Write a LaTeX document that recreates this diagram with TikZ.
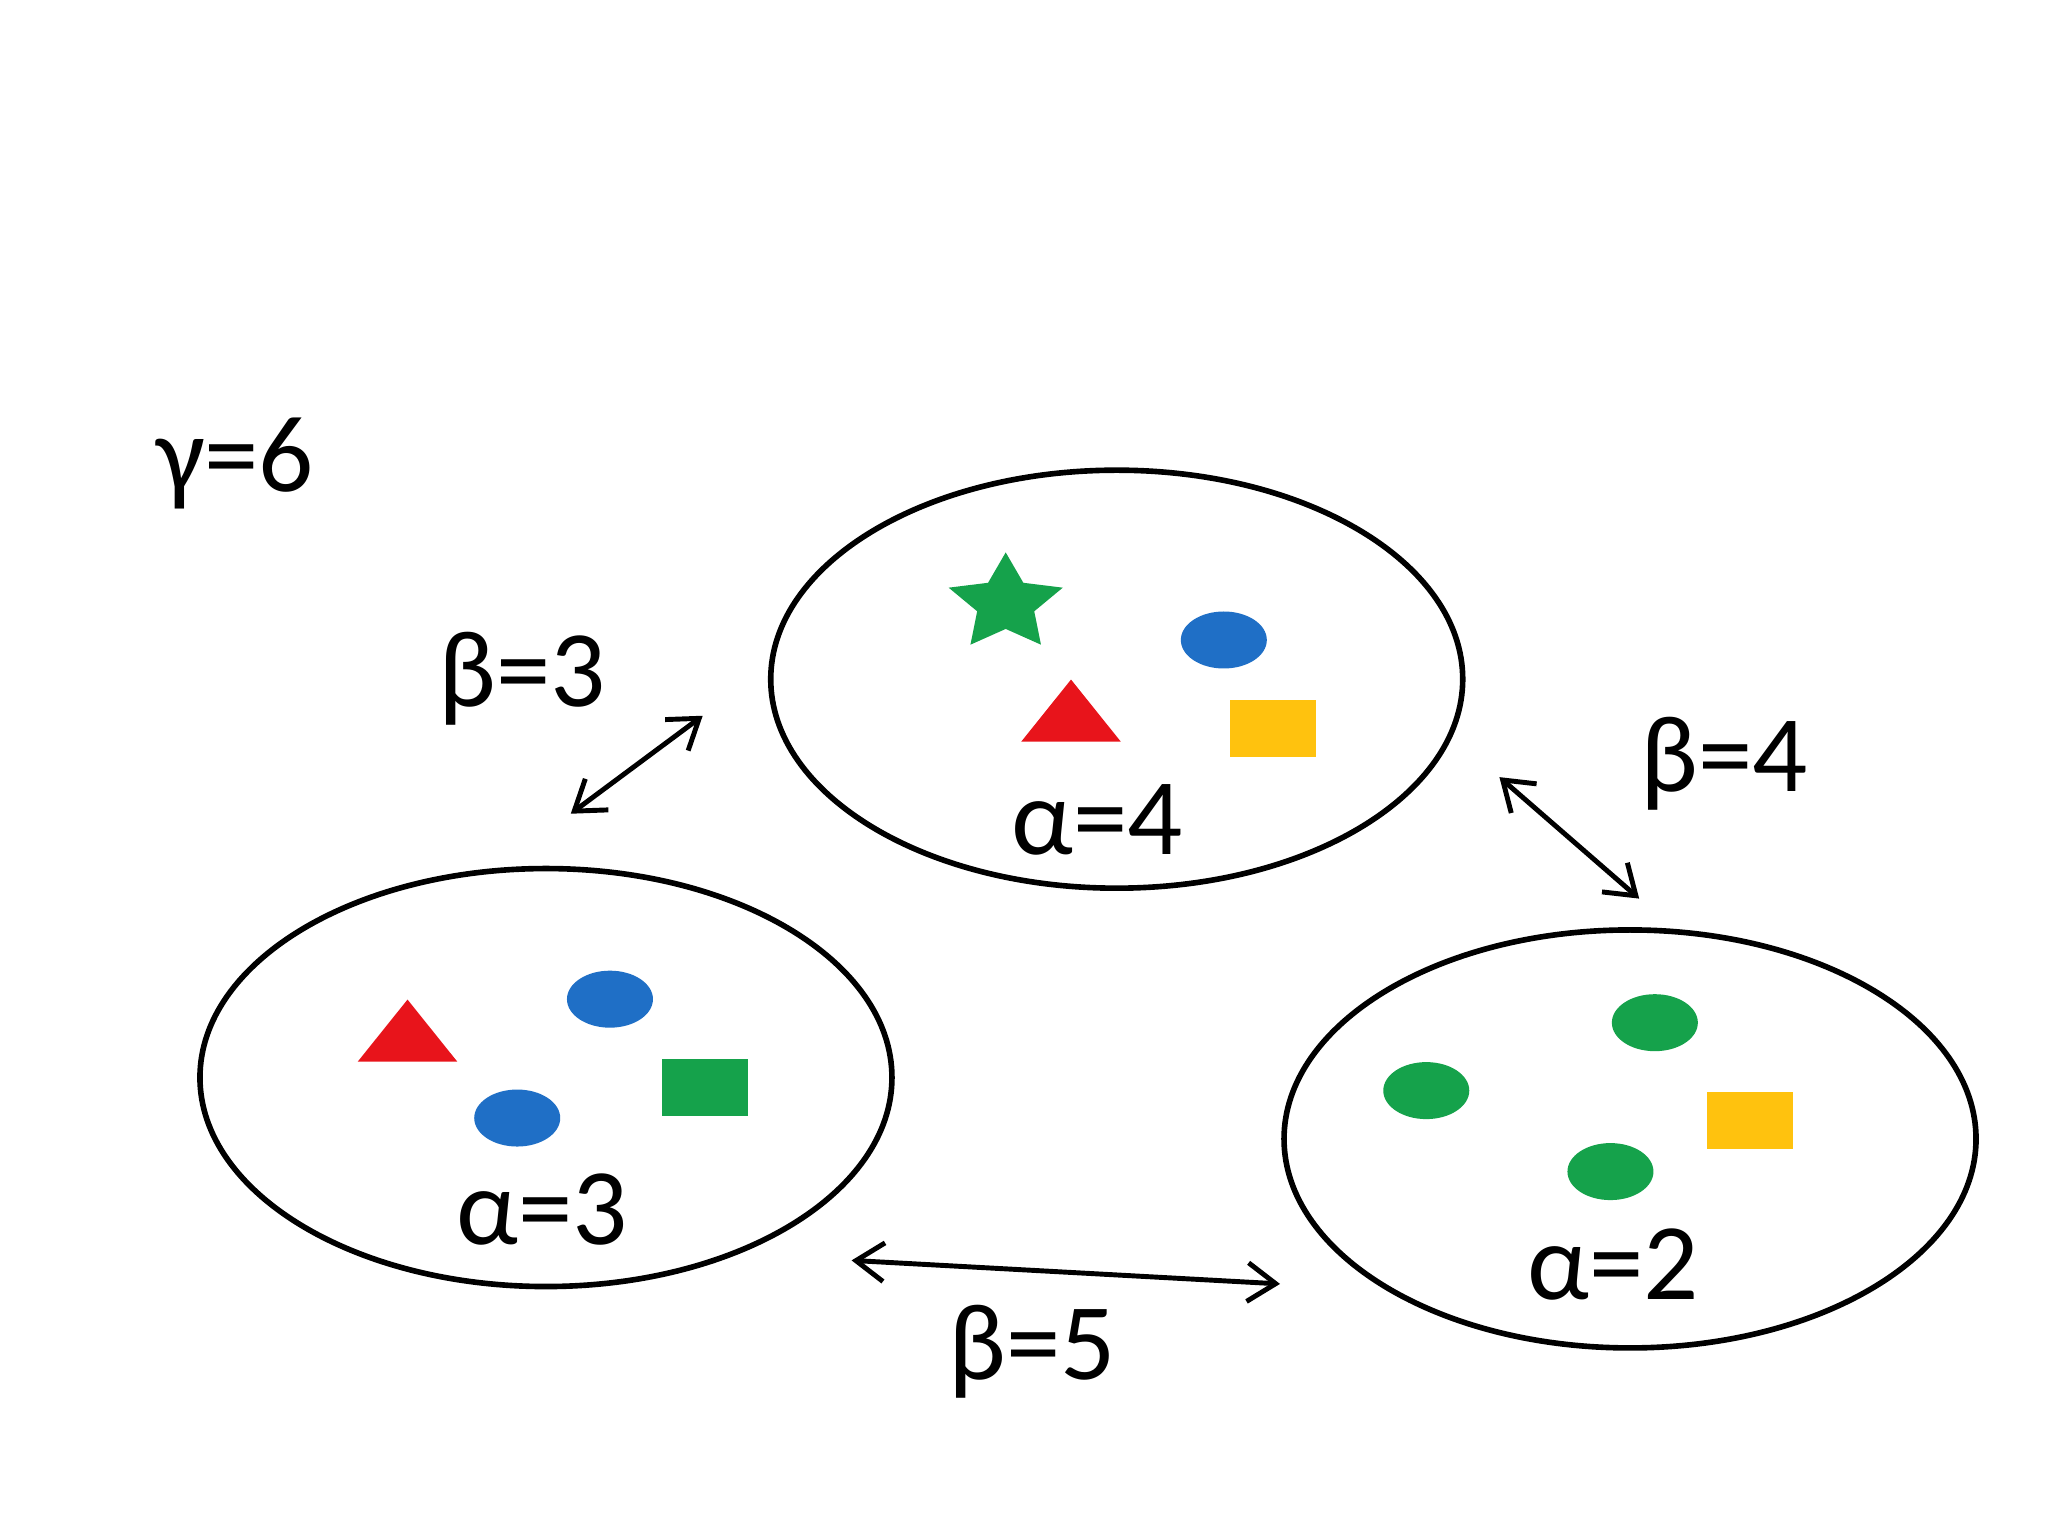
\documentclass[tikz,border=0pt]{standalone}
\usepackage{fontspec}
\setmainfont{Carlito}
\usetikzlibrary{shapes.geometric,arrows.meta}
\definecolor{cred}{HTML}{E8141B}
\definecolor{cblue}{HTML}{1F6FC6}
\definecolor{cgreen}{HTML}{15A24B}
\definecolor{cyel}{HTML}{FFC20E}
\begin{document}
\begin{tikzpicture}[x=0.01306cm,y=-0.01306cm,
  site/.style={draw=black,line width=1.6pt,ellipse,minimum width=6.92cm,minimum height=4.18cm,inner sep=0},
  lab/.style={font=\fontsize{31}{34}\selectfont},
  link/.style={{Straight Barb[length=8pt,width=11pt]}-{Straight Barb[length=8pt,width=11pt]},line width=1.4pt},
  dot/.style={ellipse,inner sep=0,minimum width=0.86cm,minimum height=0.57cm},
  sq/.style={rectangle,inner sep=0,minimum width=0.86cm,minimum height=0.57cm},
  tri/.style={regular polygon,regular polygon sides=3,inner sep=0,minimum size=1.15cm,yscale=0.72},
  st/.style={star,star points=5,star point ratio=2.0,inner sep=0,minimum size=1.2cm,yscale=0.85}]
\useasboundingbox (0,0) rectangle (1568,1176);
\fill[white] (0,0) rectangle (1568,1176);
\node[site] (top) at (855,520) {};
\node[site] (left) at (418,825) {};
\node[site] (right) at (1248,872) {};
\node[lab] (g) at (180,355) {γ=6};
\node[lab] (b3) at (400,520) {β=3};
\node[lab] (b4) at (1320,585) {β=4};
\node[lab] (b5) at (790,1035) {β=5};
\node[lab] (a4) at (840,628) {α=4};
\node[lab] (a3) at (415,926) {α=3};
\node[lab] (a2) at (1235,968) {α=2};
\coordinate (p1) at (437,623); \coordinate (p2) at (538,548);
\coordinate (q1) at (1148,595); \coordinate (q2) at (1255,688);
\coordinate (r1) at (652,965); \coordinate (r2) at (980,983);
\draw[link] (p1) -- (p2);
\draw[link] (q1) -- (q2);
\draw[link] (r1) -- (r2);
% top
\node[st,fill=cgreen] (s1) at (770,462) {};
\node[dot,fill=cblue] (s2) at (937,490) {};
\node[tri,fill=cred] (s3) at (820,552) {};
\node[sq,fill=cyel] (s4) at (975,558) {};
% left
\node[tri,fill=cred] (l1) at (312,797) {};
\node[dot,fill=cblue] (l2) at (467,765) {};
\node[dot,fill=cblue] (l3) at (396,856) {};
\node[sq,fill=cgreen] (l4) at (540,833) {};
% right
\node[dot,fill=cgreen] (r5) at (1267,783) {};
\node[dot,fill=cgreen] (r6) at (1092,835) {};
\node[dot,fill=cgreen] (r7) at (1233,897) {};
\node[sq,fill=cyel] (r8) at (1340,858) {};
\end{tikzpicture}
\end{document}
